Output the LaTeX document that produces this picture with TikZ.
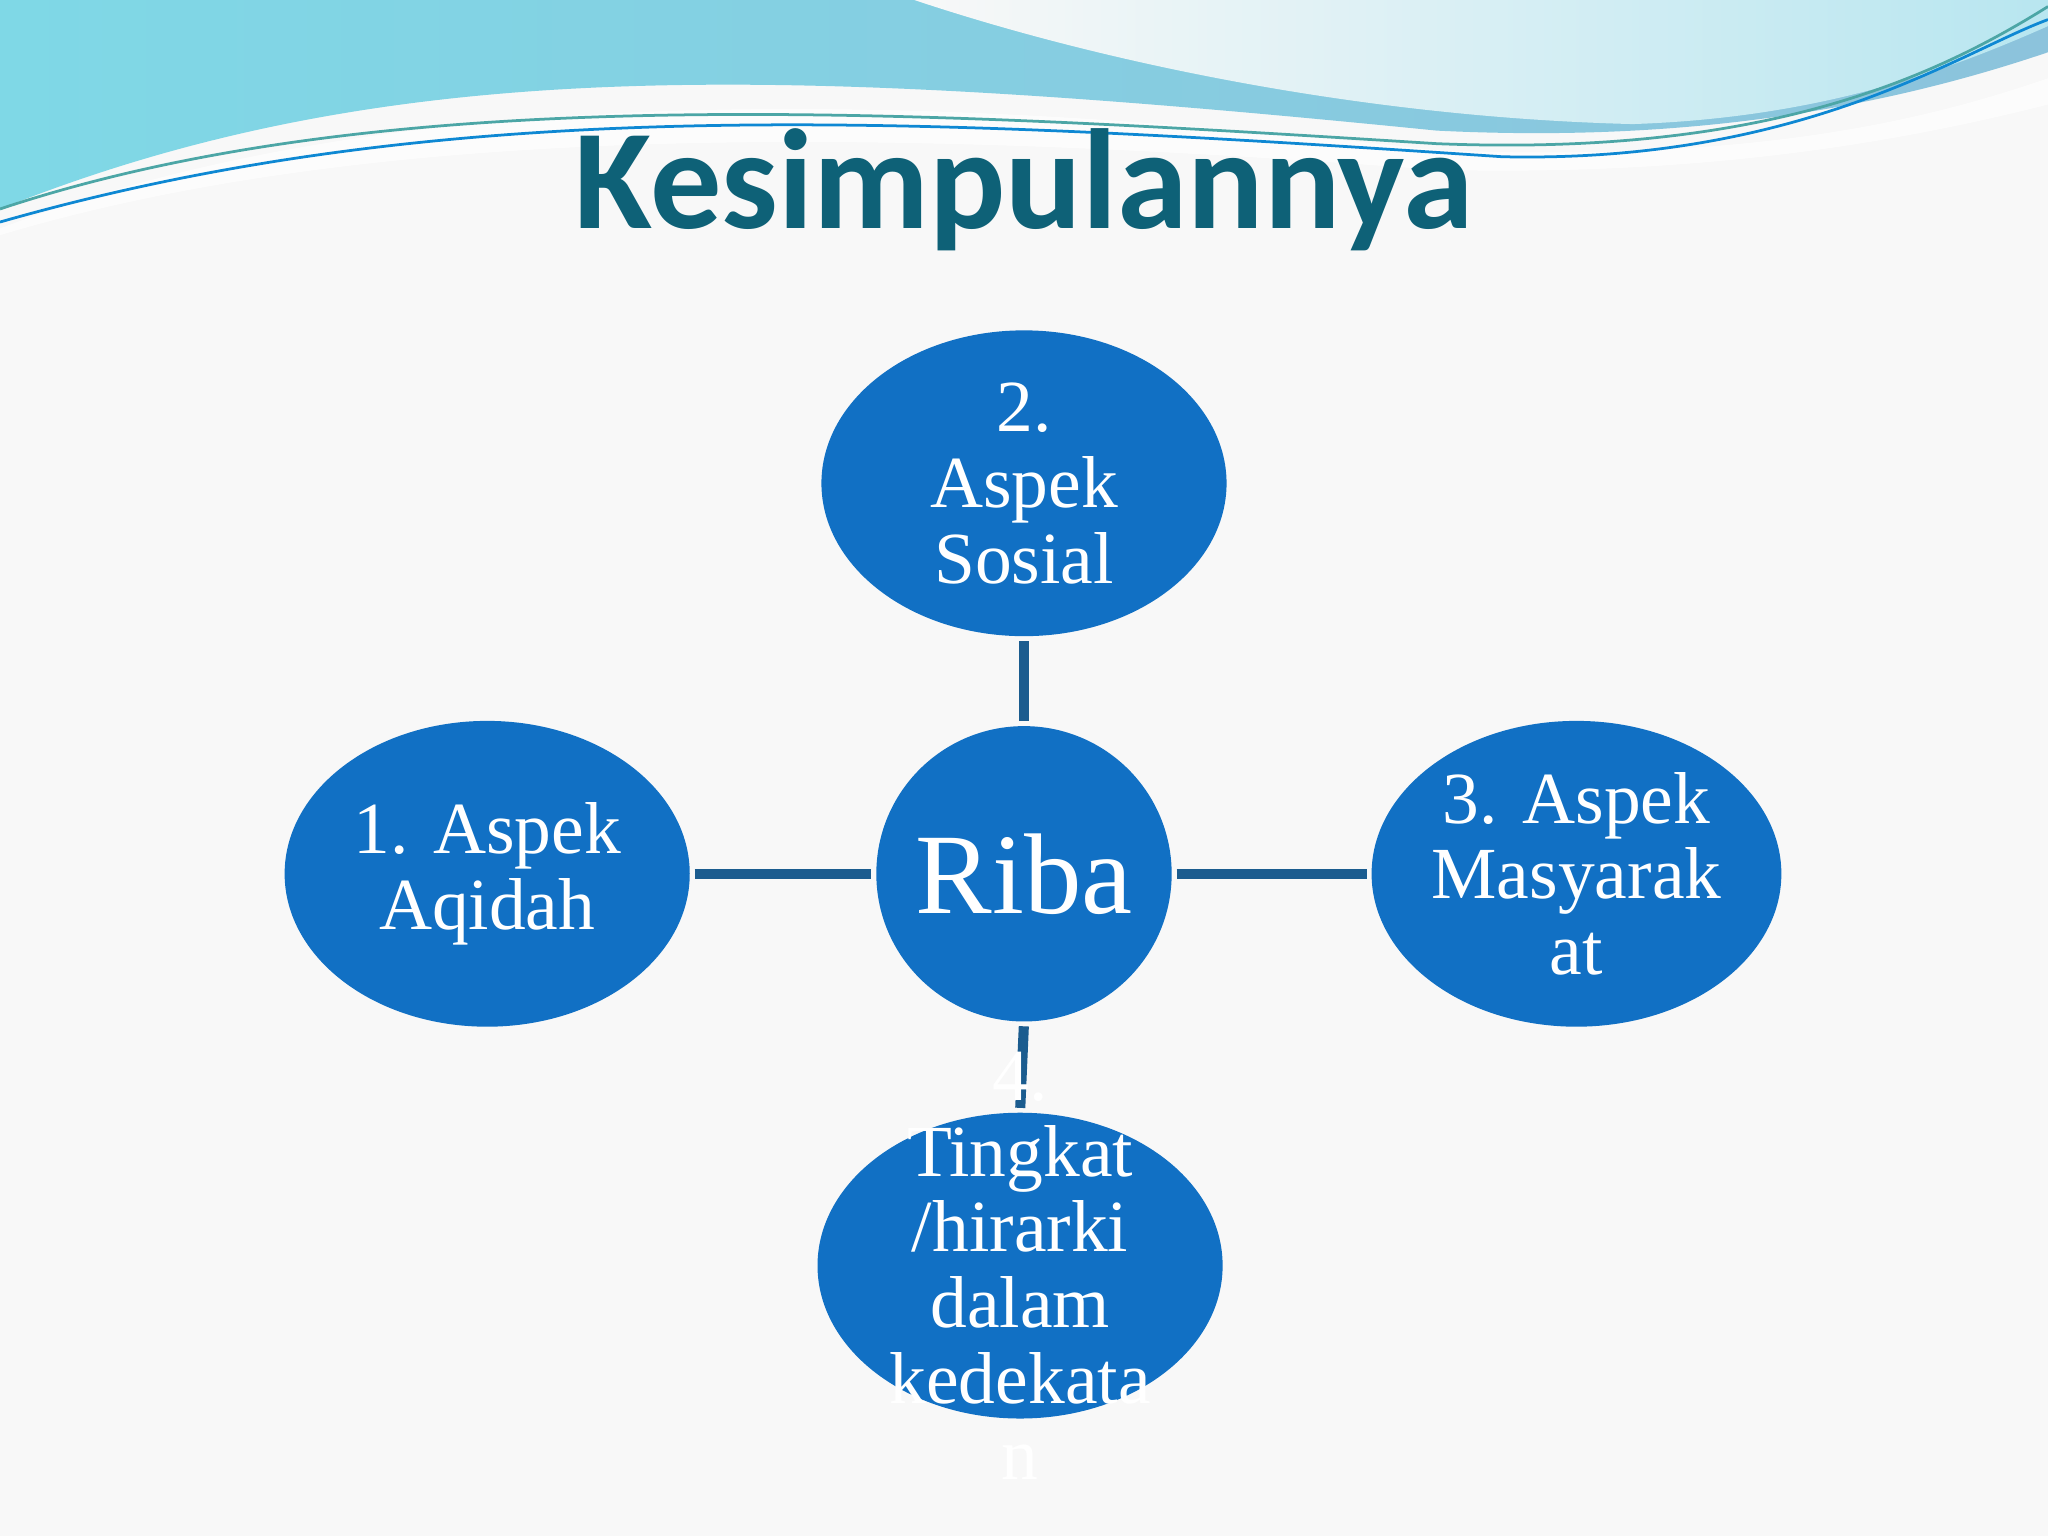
\documentclass[tikz,border=0pt]{standalone}
\usepackage{fontspec}
\usetikzlibrary{shapes.geometric}
\setmainfont{Liberation Serif}
\newfontfamily\titlefont{Carlito}
\definecolor{bub}{HTML}{1170C4}
\definecolor{lnk}{HTML}{1B5C8F}
\definecolor{ttl}{HTML}{0E6177}
\definecolor{bg}{HTML}{F8F8F8}
\definecolor{waveA}{HTML}{7FD8E6}
\definecolor{waveB}{HTML}{8CC3DC}
\definecolor{waveC}{HTML}{B8E6F0}
\begin{document}
\begin{tikzpicture}[x=0.01cm,y=-0.01cm,
  bubble/.style={ellipse,fill=bub,minimum width=3.1cm,minimum height=2.34cm,text=white,align=center,font=\fontsize{16}{16.5}\selectfont,inner sep=0pt},
  btext/.style={text=white,align=center,font=\fontsize{16}{16.5}\selectfont},
  link/.style={draw=lnk,line width=2.2pt,shorten <=0.03cm,shorten >=0.03cm}]
\useasboundingbox (0,0) rectangle (1568,1176);
\fill[bg] (0,0) rectangle (1568,1176);
% top waves
\shade[left color=waveA,right color=waveB] (0,0) -- (0,160) .. controls (300,40) and (600,50) .. (1100,100) .. controls (1300,110) and (1450,80) .. (1568,40) -- (1568,0) -- cycle;
\shade[left color=bg,right color=waveC] (700,0) .. controls (850,50) and (1050,90) .. (1250,95) .. controls (1400,90) and (1500,50) .. (1568,20) -- (1568,0) -- cycle;
\fill[white,opacity=0.7] (0,175) .. controls (300,60) and (700,70) .. (1100,115) .. controls (1350,125) and (1480,90) .. (1568,60) -- (1568,80) .. controls (1450,110) and (1300,135) .. (1100,130) .. controls (700,100) and (300,90) .. (0,180) -- cycle;
\draw[teal!70,line width=0.6pt] (0,160) .. controls (300,60) and (700,85) .. (1100,110) .. controls (1350,120) and (1480,60) .. (1568,5);
\draw[cyan!70!blue,line width=0.6pt] (0,170) .. controls (350,70) and (700,90) .. (1150,120) .. controls (1380,125) and (1500,40) .. (1568,15);
\node[font=\titlefont\bfseries\fontsize{31}{34}\selectfont,text=ttl] (title) at (784,145) {Kesimpulannya};
\node[bubble] (top) at (784,370) {2.\\Aspek\\Sosial};
\node[bubble] (left) at (373,669) {1. Aspek\\Aqidah};
\node[bubble] (right) at (1207,669) {3. Aspek\\Masyarak\\at};
\node[bubble] (bot) at (781,969) {};
\node[circle,fill=bub,minimum size=2.26cm,inner sep=0pt,text=white,font=\fontsize{25}{27}\selectfont] (riba) at (784,669) {Riba};
\draw[link] (top.south) -- (riba.north);
\draw[link] (left.east) -- (riba.west);
\draw[link] (riba.east) -- (right.west);
\draw[link] (riba.south) -- (bot.north);
\node[btext] (bottext) at (bot.center) {4.\\Tingkat\\/hirarki\\dalam\\kedekata\\n};
\end{tikzpicture}
\end{document}
